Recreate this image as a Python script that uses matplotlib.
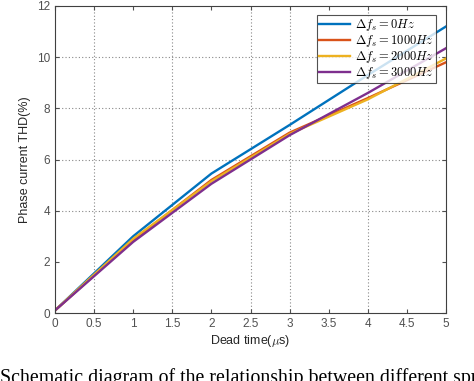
import matplotlib
matplotlib.use("Agg")
import matplotlib.pyplot as plt

x = [0, 1, 2, 3, 4, 5]
thd_0hz = [0.1, 3.0, 5.45, 7.35, 9.3, 11.2]
thd_1000hz = [0.1, 2.85, 5.2, 7.05, 8.4, 9.8]
thd_2000hz = [0.1, 2.9, 5.15, 7.0, 8.35, 9.95]
thd_3000hz = [0.1, 2.78, 5.05, 6.95, 8.6, 10.35]
labels = [r'$\Delta f_s = 0Hz$', r'$\Delta f_s = 1000Hz$',
          r'$\Delta f_s = 2000Hz$', r'$\Delta f_s = 3000Hz$']
colors = ['#0072BD', '#D95319', '#EDB120', '#7E2F8E']
xticks = [0, 0.5, 1, 1.5, 2, 2.5, 3, 3.5, 4, 4.5, 5]
xticklabels = ['0', '0.5', '1', '1.5', '2', '2.5', '3', '3.5', '4', '4.5', '5']
yticks = [0, 2, 4, 6, 8, 10, 12]
xgrid = [0.5, 1.5, 2.5, 3, 4]
ygrid = [4, 6, 8, 10]

plt.rcParams['mathtext.fontset'] = 'cm'
fig = plt.figure(figsize=(4.74, 3.81), dpi=100)
ax = fig.add_axes([55/474, 1-313/381, (446-55)/474, (313-6)/381])

for gx in xgrid:
    ax.axvline(gx, color='#888888', lw=0.8, ls=(0, (1, 2)), zorder=0)
for gy in ygrid:
    ax.axhline(gy, color='#888888', lw=0.8, ls=(0, (1, 2)), zorder=0)

for ys, c, lab in zip([thd_0hz, thd_1000hz, thd_2000hz, thd_3000hz], colors, labels):
    ax.plot(x, ys, color=c, lw=1.7, label=lab)

ax.set_xlim(0, 5)
ax.set_ylim(0, 12)
ax.set_xticks(xticks)
ax.set_xticklabels(xticklabels)
ax.set_yticks(yticks)
ax.tick_params(direction='in', top=True, right=True, labelsize=8.5,
               colors='#505050', length=3, width=0.8)
for s in ax.spines.values():
    s.set_color('#404040')
    s.set_linewidth(0.8)
ax.set_xlabel(r'Dead time($\mu$s)', fontsize=9, color='#262626', labelpad=2,
              fontfamily='Liberation Sans')
ax.set_ylabel('Phase current THD(%)', fontsize=9, color='#262626', labelpad=4,
              fontfamily='Liberation Sans')
for t in ax.get_xticklabels() + ax.get_yticklabels():
    t.set_fontfamily('Liberation Sans')

leg = ax.legend(loc='upper right', fontsize=9, frameon=True, fancybox=False,
                edgecolor='#262626', handlelength=2.5, borderpad=0.15,
                labelspacing=0.0, handletextpad=0.45,
                bbox_to_anchor=(436/474, 1 - 15/381), bbox_transform=fig.transFigure,
                borderaxespad=0)
leg.get_frame().set_linewidth(0.8)

fig.text(0.0, 1-368/381, 'Schematic diagram of the relationship between different spread',
         fontsize=14.3, fontfamily='Liberation Serif', va='top', ha='left', color='black')

fig.savefig('out.png', dpi=100)
